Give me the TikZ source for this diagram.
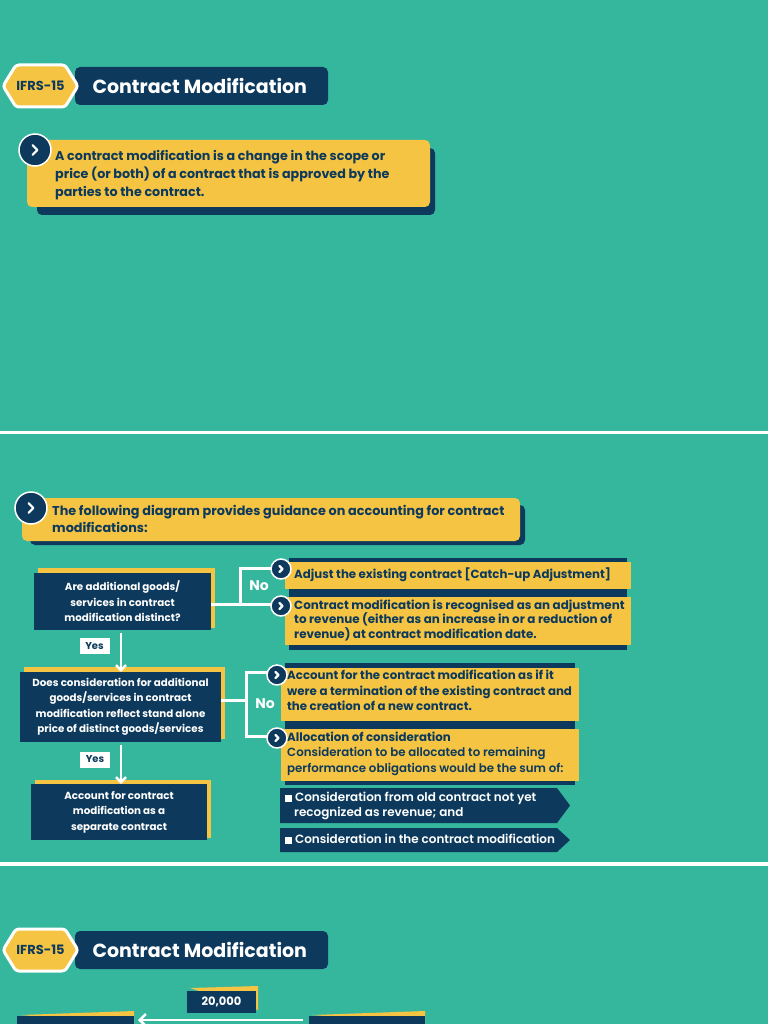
\documentclass[tikz,border=0pt]{standalone}
\usepackage{fontspec}
\setmainfont{Poppins}
\IfFontExistsTF{Poppins SemiBold}{\newfontfamily\pmed{Poppins SemiBold}}{\IfFontExistsTF{Poppins Medium}{\newfontfamily\pmed{Poppins Medium}}{\newcommand\pmed{\bfseries}}}
\usetikzlibrary{calc,arrows.meta}
\definecolor{teal}{HTML}{35B79D}
\definecolor{navy}{HTML}{0D3A5C}
\definecolor{ylw}{HTML}{F5C443}
\newcommand{\sq}{\rule{7pt}{7pt}\ }
\tikzset{
  navybox/.style={fill=navy,text=white,font=\bfseries\fontsize{10.3}{15.5}\selectfont,align=center,inner sep=0},
  ylwtext/.style={text=navy,font=\bfseries\fontsize{11.8}{15}\selectfont,align=left,anchor=north west,inner sep=0},
  wline/.style={white,line width=3},
  yesbox/.style={fill=white,text=navy,font=\bfseries\fontsize{10}{10}\selectfont,minimum width=30,minimum height=16,inner sep=0},
  noText/.style={text=white,font=\bfseries\fontsize{14}{14}\selectfont},
  arr/.style={white,line width=2.5,-{Straight Barb[length=5,width=10]}}
}
\newcommand{\chev}[4]{% name,x,y,r
  \node[circle,fill=navy,draw=white,line width=1.5,minimum size=#4*2,inner sep=0] (#1) at (#2,#3) {};
  \draw[white,line width=2.2,line cap=round,line join=round] ($(#1)+(-0.15*#4,-0.3*#4)$) -- ++(0.3*#4,0.3*#4) -- ++(-0.3*#4,0.3*#4);}
\newcommand{\header}[2]{% name, y center
  \fill[navy,rounded corners=5] (75,#2-19) rectangle (328,#2+19);
  \node[text=white,font=\bfseries\fontsize{19}{19}\selectfont,anchor=west] (#1t) at (89,#2) {Contract Modification};
  \draw[white,line width=3,fill=ylw,line join=round,rounded corners=3] (3,#2) -- (16,#2-21) -- (65,#2-21) -- (78,#2) -- (65,#2+21) -- (16,#2+21) -- cycle;
  \node[text=navy,font=\bfseries\fontsize{13}{13}\selectfont] (#1b) at (40.5,#2) {IFRS-15};}
\begin{document}
\begin{tikzpicture}[x=1pt,y=-1pt]
\fill[white] (0,0) rectangle (768,1024);
\useasboundingbox (0,0) rectangle (768,1024);
\fill[teal] (0,0) rectangle (768,431);
\fill[teal] (0,434) rectangle (768,862);
\fill[teal] (0,866) rectangle (768,1024);
% ---------- slide 1
\header{h1}{86}
\fill[navy,rounded corners=5] (37,148) rectangle (435,215);
\fill[ylw,rounded corners=5] (27,140) rectangle (430,207);
\chev{c1}{35}{150}{16}
\node[ylwtext,font=\bfseries\fontsize{12.7}{18}\selectfont] (t1) at (55,150) {A contract modification is a change in the scope or\\price (or both) of a contract that is approved by the\\parties to the contract.};
% ---------- slide 2
\fill[navy,rounded corners=5] (30,505) rectangle (525,545);
\fill[ylw,rounded corners=5] (22,498) rectangle (520,541);
\chev{c2}{31}{508}{16}
\node[ylwtext,font=\bfseries\fontsize{12.8}{17}\selectfont] (t2) at (52,505) {The following diagram provides guidance on accounting for contract\\modifications:};
% Q1
\fill[ylw] (38,568) rectangle (215,628);
\node[navybox,minimum width=177,minimum height=57] (q1) at (122.5,601.5) {Are additional goods/\\services in contract\\modification distinct?};
% Q2
\fill[ylw] (24,667) rectangle (225,739);
\node[navybox,minimum width=201,minimum height=70] (q2) at (120.5,707) {Does consideration for additional\\goods/services in contract\\modification reflect stand alone\\price of distinct goods/services};
% Q3
\fill[ylw] (35,780) rectangle (211,838);
\node[navybox,minimum width=176,minimum height=56] (q3) at (119,812) {Account for contract\\modification as a\\separate contract};
% yes arrows
\coordinate (y1s) at (121,633);
\draw[arr] (y1s) -- (y1s |- q2.north) ;
\node[yesbox] (yes1) at (94.5,646) {Yes};
\coordinate (y2s) at (121,745);
\draw[arr] (y2s) -- (y2s |- q3.north);
\node[yesbox] (yes2) at (95,759.5) {Yes};
% right boxes
\fill[navy] (289,558) rectangle (627,593);
\node[fill=ylw,minimum width=346,minimum height=27,inner sep=0] (r1) at (458,575.5) {};
\node[ylwtext] (r1t) at (294,568) {Adjust the existing contract [Catch-up Adjustment]};
\fill[navy] (289,593) rectangle (627,650);
\node[fill=ylw,minimum width=346,minimum height=48,inner sep=0] (r2) at (458,621) {};
\node[ylwtext,font=\bfseries\fontsize{11.9}{14.2}\selectfont] (r2t) at (294,600) {Contract modification is recognised as an adjustment\\to revenue (either as an increase in or a reduction of\\revenue) at contract modification date.};
\fill[navy] (285,663) rectangle (575,725);
\node[fill=ylw,minimum width=298,minimum height=53,inner sep=0] (r3) at (430,694.5) {};
\node[ylwtext,font=\bfseries\fontsize{11.8}{15.5}\selectfont] (r3t) at (287,670) {Account for the contract modification as if it\\were a termination of the existing contract and\\the creation of a new contract.};
\fill[navy] (285,724) rectangle (575,785);
\node[fill=ylw,minimum width=298,minimum height=52,inner sep=0] (r4) at (430,755) {};
\node[ylwtext,font=\pmed\mdseries\fontsize{11.8}{15.3}\selectfont] (r4t) at (287,732) {{\normalfont\bfseries\fontsize{11.8}{15.3}\selectfont Allocation of consideration}\\Consideration to be allocated to remaining\\performance obligations would be the sum of:};
\chev{c3}{281}{569}{10}
\chev{c4}{281}{606}{10}
\chev{c5}{277}{675}{10}
\chev{c6}{277}{738}{10}
% arrow boxes
\fill[navy] (280,788) coordinate (a1) -- (557,788) -- (570,805.5) -- (557,823) -- (280,823) -- cycle;
\node[text=white,font=\pmed\fontsize{12}{15}\selectfont,align=left,anchor=north west,inner sep=0] (a1t) at (285,792) {\sq Consideration from old contract not yet\\\hspace{9pt}recognized as revenue; and};
\fill[navy] (280,828) coordinate (a2) -- (557,828) -- (570,840) -- (557,852) -- (280,852) -- cycle;
\node[text=white,font=\pmed\fontsize{12}{15}\selectfont,anchor=west,inner sep=0] (a2t) at (285,839) {\sq Consideration in the contract modification};
% No connectors
\coordinate (b1) at (240,604);
\draw[wline] (q1.east |- b1) -- (b1);
\draw[wline,line join=miter] (271,568) -- (240,568) -- (240,604) -- (271,604);
\node[noText] (no1) at (259,586) {No};
\coordinate (b2) at (246,700);
\draw[wline] (q2.east |- b2) -- (b2);
\draw[wline,line join=miter] (267,672) -- (246,672) -- (246,736) -- (267,736);
\node[noText] (no2) at (265,704) {No};
% ---------- slide 3
\header{h3}{950}
\fill[ylw] (190,988) -- (258,986) -- (258,1010) -- cycle;
\node[fill=navy,text=white,font=\bfseries\fontsize{11.5}{11.5}\selectfont,minimum width=69,minimum height=22,inner sep=0] (v) at (221.5,1001.5) {20,000};
\fill[ylw] (20,1015) -- (134,1011) -- (134,1024) -- cycle;
\fill[navy] (17,1016) rectangle (134,1026);
\fill[ylw] (312,1015) -- (425,1011) -- (425,1024) -- cycle;
\fill[navy] (309,1016) rectangle (425,1026);
\coordinate (sr) at (309,1020);
\coordinate (sl) at (138,1020);
\draw[white,line width=2.5,-{Straight Barb[length=6,width=12]}] ($(sr)+(-6,0)$) -- (sl);
\end{tikzpicture}
\end{document}
